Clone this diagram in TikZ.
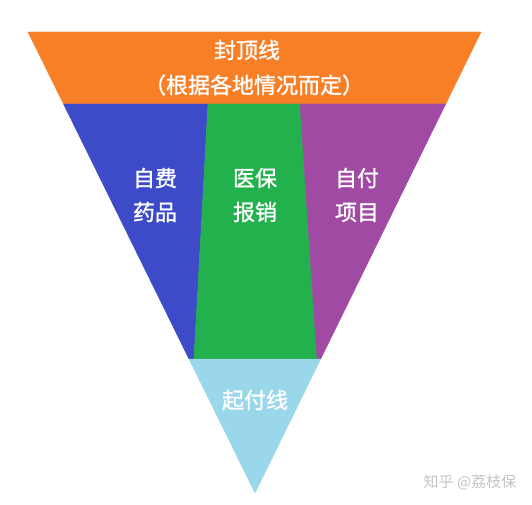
\documentclass[tikz,border=0pt]{standalone}
\usepackage{fontspec}
\newfontfamily\cjk[FakeBold=1.2]{Noto Sans CJK SC}
\newfontfamily\cjkw{Noto Sans CJK SC}
\definecolor{cOrange}{HTML}{F97F27}
\definecolor{cBlue}{HTML}{3D4BC8}
\definecolor{cGreen}{HTML}{23B14D}
\definecolor{cPurple}{HTML}{A04AA3}
\definecolor{cLight}{HTML}{9AD7EA}
\definecolor{cMark}{HTML}{C4C4C4}
\tikzset{
  band/.style={fill=#1, draw=#1, line width=0.4pt, line join=round},
  lbl/.style={text=white, font=\cjk\fontsize{22}{34}\selectfont, align=center, inner sep=0pt},
  wmark/.style={text=cMark, font=\cjkw\fontsize{15}{18}\selectfont, inner sep=0pt}
}
\begin{document}
\begin{tikzpicture}[x=1pt,y=-1pt]
\useasboundingbox (0,0) rectangle (532,505);
\fill[white] (0,0) rectangle (532,505);
% key points
\coordinate (TL) at (28,32);
\coordinate (TR) at (481,32);
\coordinate (ML) at (63.5,104);
\coordinate (MR) at (445.7,104);
\coordinate (D1t) at (208,104);
\coordinate (D2t) at (300,104);
\coordinate (BL) at (189,359);
\coordinate (BR) at (320.7,359);
\coordinate (D1b) at (194,359);
\coordinate (D2b) at (317,359);
\coordinate (AP) at (255,493);
% bands
\path[band=cOrange] (TL) -- (TR) -- (MR) -- (ML) -- cycle;
\path[band=cBlue] (ML) -- (D1t) -- (D1b) -- (BL) -- cycle;
\path[band=cGreen] (D1t) -- (D2t) -- (D2b) -- (D1b) -- cycle;
\path[band=cPurple] (D2t) -- (MR) -- (BR) -- (D2b) -- cycle;
\path[band=cLight] (BL) -- (BR) -- (AP) -- cycle;
% labels
\node[lbl] (t1) at (247,50) {封顶线};
\node[lbl] (t2) at (254,85) {（根据各地情况而定）};
\node[lbl] (a) at (155,195) {自费\\药品};
\node[lbl] (b) at (255,195) {医保\\报销};
\node[lbl] (c) at (357,195) {自付\\项目};
\node[lbl] (d) at (255,400) {起付线};
\node[wmark] (w) at (470,482) {知乎 @荔枝保};
\end{tikzpicture}
\end{document}
